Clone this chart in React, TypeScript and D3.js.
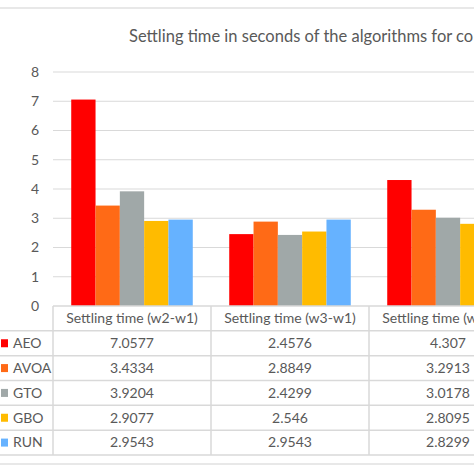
import React, { useEffect, useRef } from "react";
import * as d3 from "d3";

// categories (table columns) and algorithms (series / table rows)
const categories = ["Settling time (w2-w1)", "Settling time (w3-w1)", "Settling time (w3-w2)"];
const algorithms = ["AEO", "AVOA", "GTO", "GBO", "RUN"];
const colors = ["#ff0000", "#ff6a16", "#a0a8a8", "#ffbb00", "#66b2ff"];

// values per algorithm, one per category
const aeo = [7.0577, 2.4576, 4.307];
const avoa = [3.4334, 2.8849, 3.2913];
const gto = [3.9204, 2.4299, 3.0178];
const gbo = [2.9077, 2.546, 2.8095];
const run = [2.9543, 2.9543, 2.8299];

const yTicks = [0, 1, 2, 3, 4, 5, 6, 7, 8];
const title = "Settling time in seconds of the algorithms for co";

const App: React.FC = () => {
  const svgRef = useRef<SVGSVGElement>(null);

  useEffect(() => {
    document.body.style.margin = "0";
    const svg = d3.select(svgRef.current);
    svg.selectAll("*").remove();

    const font = "Lato, 'Open Sans', sans-serif";
    const textColor = "#595959";
    const lineColor = "#d9d9d9";
    const series = [aeo, avoa, gto, gbo, run];

    const left = 53;
    const plotTop = 72;
    const plotBottom = 306;

    // border lines of the chart area
    svg.append("line").attr("x1", 0).attr("x2", 474).attr("y1", 8).attr("y2", 8)
      .attr("stroke", "#e0e0e0").attr("stroke-width", 1.5);
    svg.append("line").attr("x1", 0).attr("x2", 474).attr("y1", 464).attr("y2", 464)
      .attr("stroke", "#e0e0e0").attr("stroke-width", 1.5);

    // title
    svg.append("text")
      .attr("x", 129).attr("y", 42)
      .attr("font-family", font).attr("font-size", 16.5)
      .attr("fill", textColor)
      .text(title);

    const x0 = d3.scaleBand<string>().domain(categories).range([left, 527]).padding(0);
    const x1 = d3.scaleBand<string>().domain(algorithms).range([0, x0.bandwidth()])
      .paddingInner(0).paddingOuter(0.75);
    const y = d3.scaleLinear().domain([0, 8]).range([plotBottom, plotTop]);

    // gridlines
    svg.append("g").selectAll("line").data(yTicks.filter(t => t > 0)).join("line")
      .attr("x1", left).attr("x2", 474)
      .attr("y1", d => y(d)).attr("y2", d => y(d))
      .attr("stroke", lineColor).attr("stroke-width", 1);

    // y labels
    svg.append("g").selectAll("text").data(yTicks).join("text")
      .attr("x", 39).attr("y", d => y(d))
      .attr("dy", "0.35em")
      .attr("text-anchor", "end")
      .attr("font-family", font).attr("font-size", 14)
      .attr("fill", textColor)
      .text(d => d);

    // bars
    const groups = svg.append("g").selectAll("g").data(categories).join("g")
      .attr("transform", d => `translate(${x0(d)},0)`);
    groups.selectAll("rect")
      .data((_, ci) => algorithms.map((a, si) => ({ a, si, v: series[si][ci] })))
      .join("rect")
      .attr("x", d => x1(d.a) as number)
      .attr("width", x1.bandwidth())
      .attr("y", d => y(d.v))
      .attr("height", d => y(0) - y(d.v))
      .attr("fill", d => colors[d.si]);

    // data table
    const rows = d3.scaleBand<string>().domain(["header", ...algorithms]).range([plotBottom, 455]);
    const table = svg.append("g");

    // horizontal lines
    table.append("line").attr("x1", left).attr("x2", 474)
      .attr("y1", plotBottom).attr("y2", plotBottom)
      .attr("stroke", lineColor).attr("stroke-width", 1.5);
    table.selectAll("line.row").data(algorithms).join("line")
      .attr("class", "row")
      .attr("x1", 0).attr("x2", 474)
      .attr("y1", d => rows(d) as number).attr("y2", d => rows(d) as number)
      .attr("stroke", lineColor).attr("stroke-width", 1.5);
    table.append("line").attr("x1", 0).attr("x2", 474)
      .attr("y1", 455).attr("y2", 455)
      .attr("stroke", lineColor).attr("stroke-width", 1.5);

    // vertical lines
    const vx = [left, ...categories.map(c => (x0(c) as number) + x0.bandwidth())];
    table.selectAll("line.col").data(vx).join("line")
      .attr("class", "col")
      .attr("x1", d => d).attr("x2", d => d)
      .attr("y1", plotBottom).attr("y2", 455)
      .attr("stroke", lineColor).attr("stroke-width", 1.5);

    // header labels
    table.selectAll("text.head").data(categories).join("text")
      .attr("class", "head")
      .attr("x", d => (x0(d) as number) + x0.bandwidth() / 2)
      .attr("y", (rows("header") as number) + rows.bandwidth() / 2)
      .attr("dy", "0.35em")
      .attr("text-anchor", "middle")
      .attr("font-family", font).attr("font-size", 14)
      .attr("fill", textColor)
      .text(d => d);

    // legend keys and row names
    const rowG = table.selectAll("g.r").data(algorithms).join("g")
      .attr("class", "r")
      .attr("transform", d => `translate(0,${(rows(d) as number) + rows.bandwidth() / 2})`);
    rowG.append("rect")
      .attr("x", 1).attr("y", -4).attr("width", 7).attr("height", 8)
      .attr("fill", (_, i) => colors[i]);
    rowG.append("text")
      .attr("x", 13).attr("dy", "0.35em")
      .attr("font-family", font).attr("font-size", 14)
      .attr("fill", textColor)
      .text(d => d);

    // values
    rowG.selectAll("text.v")
      .data((_, si) => categories.map((c, ci) => ({ c, v: series[si][ci] })))
      .join("text")
      .attr("class", "v")
      .attr("x", d => (x0(d.c) as number) + x0.bandwidth() / 2)
      .attr("dy", "0.35em")
      .attr("text-anchor", "middle")
      .attr("font-family", font).attr("font-size", 14)
      .attr("fill", textColor)
      .text(d => String(d.v));
  }, []);

  return <svg ref={svgRef} width={474} height={474} style={{ display: "block" }} />;
};

export default App;
